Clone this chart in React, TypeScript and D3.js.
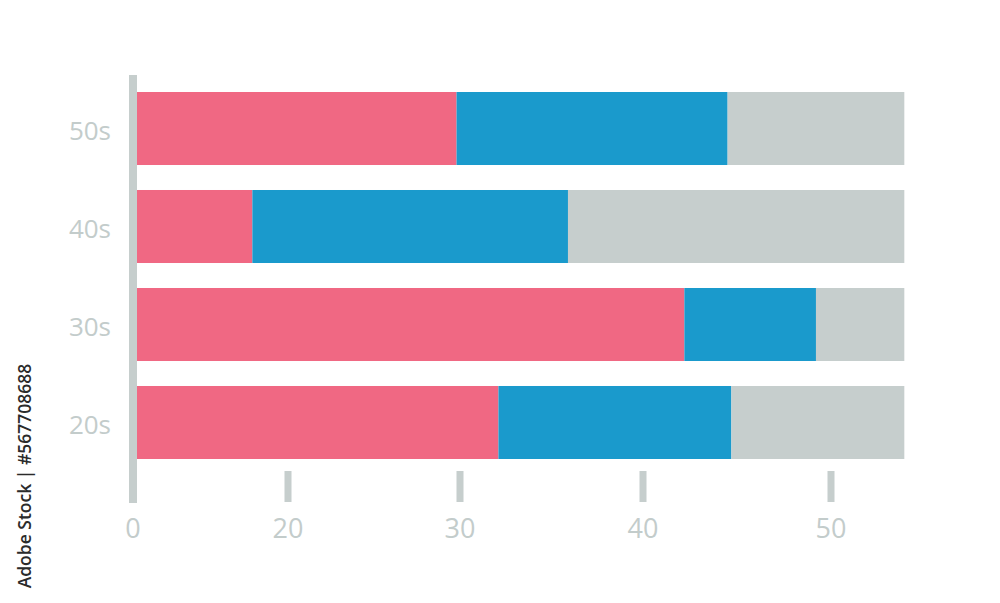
import React, { useEffect, useRef } from "react"
import * as d3 from "d3"

// age groups, top to bottom
const groups = ["50s", "40s", "30s", "20s"]
const pinkValues = [29.8, 15.4, 42.2, 32.1]
const blueValues = [14.7, 20.5, 7.0, 12.6]
const grayValues = [9.4, 18.0, 4.7, 9.2]
const tickValues = [0, 20, 30, 40, 50]

const keys = ["pink", "blue", "gray"]
const colors: Record<string, string> = { pink: "#f06883", blue: "#1a9acc", gray: "#c6cecd" }
const axisColor = "#c6cecd"
const textColor = "#c3cccb"

const width = 1000
const height = 603

function App() {
    const ref = useRef<SVGSVGElement>(null)

    useEffect(() => {
        const svg = d3.select(ref.current)
        svg.selectAll("*").remove()

        const rows = groups.map((g, i) => ({ group: g, pink: pinkValues[i], blue: blueValues[i], gray: grayValues[i] }))

        // the axis in the picture is not evenly spaced, so piecewise scale
        const x = d3.scaleLinear().domain([0, 20, 30, 40, 50]).range([133, 288, 460, 643, 831])
        const y = d3.scaleBand().domain(groups).range([92, 459]).paddingInner(0.255).paddingOuter(0)

        const stacked = d3.stack<any>().keys(keys)(rows)

        svg.append("g")
            .selectAll("g")
            .data(stacked)
            .join("g")
            .attr("fill", (d) => colors[d.key])
            .selectAll("rect")
            .data((d) => d)
            .join("rect")
            .attr("x", (d) => x(d[0]))
            .attr("y", (d) => y(d.data.group) as number)
            .attr("width", (d) => x(d[1]) - x(d[0]))
            .attr("height", y.bandwidth())

        // vertical axis bar
        svg.append("rect")
            .attr("x", x(0) - 4)
            .attr("y", 75)
            .attr("width", 8)
            .attr("height", 428)
            .attr("fill", axisColor)

        // tick marks
        svg.append("g")
            .selectAll("rect")
            .data(tickValues.filter((t) => t !== 0))
            .join("rect")
            .attr("x", (d) => x(d) - 3.5)
            .attr("y", 471)
            .attr("width", 7)
            .attr("height", 31)
            .attr("fill", axisColor)

        svg.append("g")
            .selectAll("text")
            .data(tickValues)
            .join("text")
            .attr("x", (d) => x(d))
            .attr("y", 538)
            .attr("text-anchor", "middle")
            .attr("font-family", "'Open Sans', sans-serif")
            .attr("font-size", 27)
            .attr("fill", textColor)
            .text((d) => d)

        svg.append("g")
            .selectAll("text")
            .data(groups)
            .join("text")
            .attr("x", 111)
            .attr("y", (d) => (y(d) as number) + y.bandwidth() / 2)
            .attr("dy", "0.45em")
            .attr("text-anchor", "end")
            .attr("font-family", "'Open Sans', sans-serif")
            .attr("font-size", 26)
            .attr("fill", textColor)
            .text((d) => d)

        svg.append("text")
            .attr("transform", "translate(31,476) rotate(-90)")
            .attr("text-anchor", "middle")
            .attr("font-family", "'Open Sans', sans-serif")
            .attr("font-size", 17.5)
            .attr("font-weight", 600)
            .attr("fill", "#2b2b2b")
            .text("Adobe Stock | #567708688")
    })

    return (
        <svg ref={ref} width={width} height={height} style={{ position: "absolute", left: 0, top: 0 }}></svg>
    )
}

export default App
